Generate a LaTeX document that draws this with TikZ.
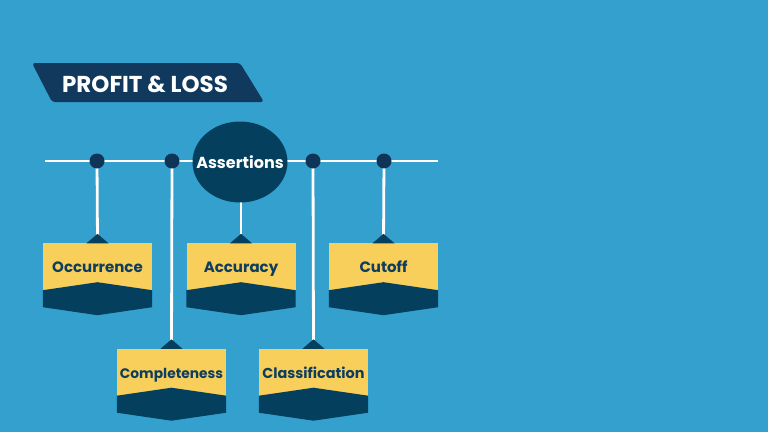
\documentclass[tikz,border=0pt]{standalone}
\usepackage{fontspec}
\setmainfont{Poppins}
\usetikzlibrary{shapes.geometric,calc}
\definecolor{bgblue}{RGB}{51,160,206}
\definecolor{banner}{RGB}{17,57,94}
\definecolor{darkteal}{RGB}{4,63,93}
\definecolor{dotnavy}{RGB}{14,53,88}
\definecolor{yel}{RGB}{248,207,90}
\definecolor{txtnavy}{RGB}{15,61,94}
\pgfdeclarelayer{base}
\pgfdeclarelayer{back}
\pgfsetlayers{base,back,main}
\tikzset{
  wline/.style={draw=white,line width=2.8pt},
  dotnode/.style={circle,fill=dotnavy,minimum size=15pt,inner sep=0pt},
  ybox/.style={rectangle,fill=yel,minimum width=109pt,minimum height=47pt,inner sep=0pt,
    text height=15pt,text depth=3pt,
    text=txtnavy,font=\fontsize{15}{17}\selectfont\bfseries},
  darkfill/.style={fill=darkteal},
}
\newcommand{\boxdeco}[1]{%
  \fill[darkfill] (#1.south west) -- ($(#1.south)+(0,-8)$) -- (#1.south east)
    -- ($(#1.south east)+(0,17)$) -- ($(#1.south)+(0,25)$) -- ($(#1.south west)+(0,17)$) -- cycle;
  \fill[darkfill] ($(#1.north)+(-11,0.5)$) -- ($(#1.north)+(0,-9)$) -- ($(#1.north)+(11,0.5)$) -- cycle;
}
\begin{document}
\begin{tikzpicture}[x=1pt,y=-1pt]
\useasboundingbox (0,0) rectangle (768,432);
\begin{pgfonlayer}{base}
\fill[bgblue] (0,0) rectangle (768,432);
\end{pgfonlayer}
% banner
\fill[banner,rounded corners=3pt] (32,63) -- (240,63) -- (264,102) -- (52,102) -- cycle;
\node[text=white,font=\fontsize{23}{26}\selectfont\bfseries,text height=17pt,text depth=0pt] (title) at (145,84) {PROFIT \& LOSS};
% central ellipse
\node[ellipse,fill=darkteal,minimum width=95pt,minimum height=81pt,inner sep=0pt,
  text=white,font=\fontsize{16}{18}\selectfont\bfseries,text height=12pt,text depth=0pt] (assert) at (240,162) {\makebox[0pt]{Assertions}};
% dots
\node[dotnode] (d1) at (97,161) {};
\node[dotnode] (d2) at (172,161) {};
\node[dotnode] (d3) at (313,161) {};
\node[dotnode] (d4) at (384,161) {};
\coordinate (hl) at (45,161);
\coordinate (hr) at (438,161);
% boxes
\node[ybox] (occ) at (97.5,266.5) {\makebox[0pt]{Occurrence}};
\node[ybox] (acc) at (241,266.5) {\makebox[0pt]{Accuracy}};
\node[ybox] (cut) at (383.5,266.5) {\makebox[0pt]{Cutoff}};
\node[ybox] (comp) at (171.5,372) {\makebox[0pt]{\fontsize{13.8}{17}\selectfont Completeness}};
\node[ybox] (clas) at (313.5,372) {\makebox[0pt]{\fontsize{14.4}{17}\selectfont Classification}};
\boxdeco{occ}
\boxdeco{acc}
\boxdeco{cut}
\boxdeco{comp}
\boxdeco{clas}
\begin{pgfonlayer}{back}
\draw[wline] (hl) -- (hr);
\draw[wline] (d1.center) -- (occ.north);
\draw[wline] (assert.center |- assert.south) ++(1,-2) -- (acc.north);
\draw[wline] (d4.center) -- (cut.north);
\draw[wline] (d2.center) -- (comp.north);
\draw[wline] (d3.center) -- (clas.north);
\end{pgfonlayer}
\end{tikzpicture}
\end{document}
